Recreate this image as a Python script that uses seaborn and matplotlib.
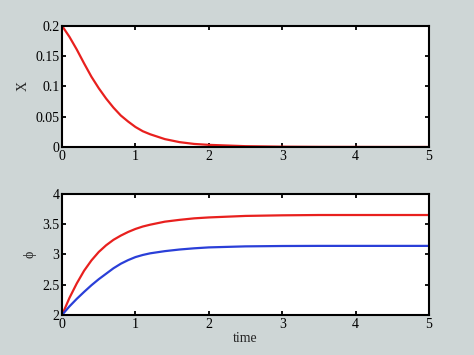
import matplotlib
matplotlib.use("Agg")
import matplotlib.pyplot as plt
import pandas as pd
import seaborn as sns

# ── values ─────────────────────────────────────
t = [0.0, 0.1, 0.2, 0.3, 0.4, 0.5, 0.6, 0.7, 0.8, 0.9, 1.0, 1.1,
     1.2, 1.4, 1.6, 1.8, 2.0, 2.5, 3.0, 3.5, 4.0, 4.5, 5.0]
x_vals = [0.200, 0.182, 0.161, 0.138, 0.116, 0.097, 0.080, 0.065, 0.052, 0.042, 0.033, 0.026,
          0.021, 0.013, 0.008, 0.005, 0.0035, 0.0013, 0.0005, 0.0002, 0.0001, 0.0, 0.0]
phi_red = [2.00, 2.28, 2.52, 2.73, 2.90, 3.04, 3.15, 3.24, 3.31, 3.37, 3.42, 3.46,
           3.49, 3.54, 3.57, 3.595, 3.61, 3.635, 3.645, 3.65, 3.65, 3.65, 3.65]
phi_blue = [2.00, 2.14, 2.265, 2.38, 2.49, 2.59, 2.68, 2.77, 2.845, 2.905, 2.955, 2.99,
            3.017, 3.053, 3.08, 3.10, 3.115, 3.132, 3.138, 3.14, 3.14, 3.14, 3.14]

x_ticks = [0, 1, 2, 3, 4, 5]
top_ticks = [0, 0.05, 0.1, 0.15, 0.2]
top_labels = ["0", "0.05", "0.1", "0.15", "0.2"]
bot_ticks = [2, 2.5, 3, 3.5, 4]
bot_labels = ["2", "2.5", "3", "3.5", "4"]

BG = "#CED6D6"

sns.set_style("ticks")
plt.rcParams["font.family"] = ["Liberation Serif", "DejaVu Serif"]
plt.rcParams["font.size"] = 10

fig = plt.figure(figsize=(4.74, 3.55), dpi=100, facecolor=BG)
ax1 = fig.add_axes([0.131, 0.586, 0.774, 0.341])
ax2 = fig.add_axes([0.131, 0.113, 0.774, 0.341])

df_top = pd.DataFrame({"t": t, "X": x_vals})
df_bot = pd.DataFrame({"t": t + t, "phi": phi_red + phi_blue,
                       "series": ["red"] * len(t) + ["blue"] * len(t)})

sns.lineplot(data=df_top, x="t", y="X", ax=ax1, color="#E8201E", linewidth=1.6)
sns.lineplot(data=df_bot, x="t", y="phi", hue="series", ax=ax2,
             palette={"red": "#E8201E", "blue": "#2A3FD8"}, linewidth=1.6,
             legend=False)

for ax in (ax1, ax2):
    ax.set_facecolor("white")
    ax.set_xlim(0, 5)
    ax.set_xticks(x_ticks)
    ax.set_xticklabels([str(v) for v in x_ticks])
    for s in ax.spines.values():
        s.set_visible(True)
        s.set_linewidth(1.5)
        s.set_color("black")
    ax.tick_params(direction="in", length=3, width=1.3, top=True, right=True,
                   labelsize=10, pad=2, colors="black")

ax1.set_ylim(0, 0.2)
ax1.set_yticks(top_ticks)
ax1.set_yticklabels(top_labels)
ax1.set_xlabel("")
ax1.set_ylabel("X", fontsize=10, labelpad=4)

ax2.set_ylim(2, 4)
ax2.set_yticks(bot_ticks)
ax2.set_yticklabels(bot_labels)
ax2.set_xlabel("time", fontsize=10, labelpad=1)
ax2.set_ylabel("ϕ", fontsize=10, labelpad=4)

plt.savefig("out.png", dpi=100, facecolor=BG)
plt.close()
